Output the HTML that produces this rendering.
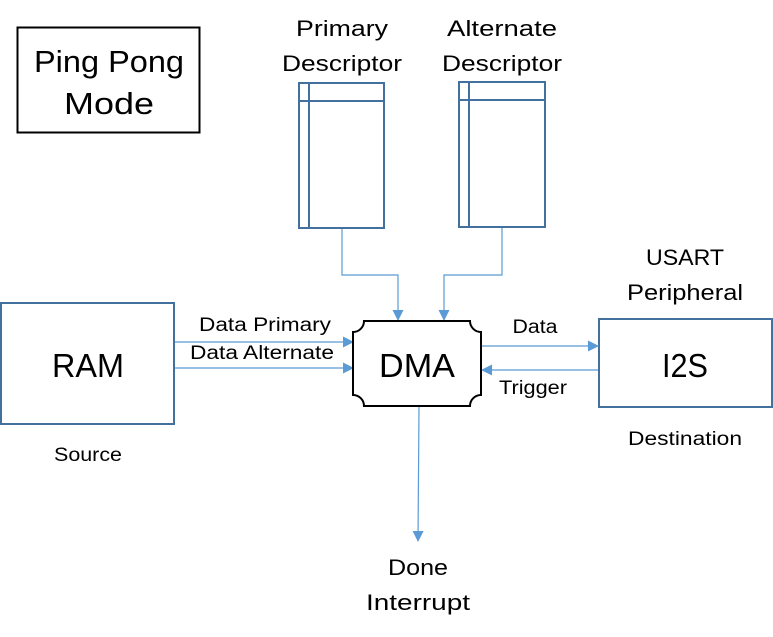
<!DOCTYPE html>
<html><head><meta charset="utf-8"><style>html,body{margin:0;padding:0;background:#fff}svg{display:block}text{font-family:"Liberation Sans",sans-serif;fill:#000}</style></head>
<body>
<svg width="773" height="637" viewBox="0 0 773 637" xmlns="http://www.w3.org/2000/svg">
<defs><marker id="a" markerWidth="11" markerHeight="11" refX="10" refY="5.5" orient="auto" markerUnits="userSpaceOnUse"><path d="M0,0 L11,5.5 L0,11 Z" fill="#5b9bd5"/></marker></defs>
<rect x="17.5" y="27.5" width="182" height="105" fill="none" stroke="#000" stroke-width="2"/>
<text x="109" y="72" font-size="31" text-anchor="middle" textLength="150" lengthAdjust="spacingAndGlyphs">Ping Pong</text>
<text x="109" y="114" font-size="31" text-anchor="middle" textLength="90" lengthAdjust="spacingAndGlyphs">Mode</text>
<text x="342" y="36" font-size="22" text-anchor="middle" textLength="92" lengthAdjust="spacingAndGlyphs">Primary</text>
<text x="342" y="71" font-size="22" text-anchor="middle" textLength="120" lengthAdjust="spacingAndGlyphs">Descriptor</text>
<text x="502" y="36" font-size="22" text-anchor="middle" textLength="110" lengthAdjust="spacingAndGlyphs">Alternate</text>
<text x="502" y="71" font-size="22" text-anchor="middle" textLength="120" lengthAdjust="spacingAndGlyphs">Descriptor</text>
<g fill="none" stroke="#41719c" stroke-width="2">
<rect x="299" y="83" width="85" height="145"/><line x1="309" y1="83" x2="309" y2="228"/><line x1="299" y1="101" x2="384" y2="101"/>
<rect x="459" y="82" width="86" height="145"/><line x1="469" y1="82" x2="469" y2="227"/><line x1="459" y1="100" x2="545" y2="100"/>
<rect x="1" y="303" width="173" height="121"/>
<rect x="599" y="319" width="173" height="88"/>
</g>
<g fill="none" stroke="#5b9bd5" stroke-width="1.2">
<polyline points="342,229 342,275 398,275 398,320" marker-end="url(#a)"/>
<polyline points="502,228 502,275 444,275 444,320" marker-end="url(#a)"/>
<line x1="175" y1="342" x2="353" y2="342" marker-end="url(#a)"/>
<line x1="175" y1="368" x2="353" y2="368" marker-end="url(#a)"/>
<line x1="482" y1="346" x2="598" y2="346" marker-end="url(#a)"/>
<line x1="598" y1="370" x2="482" y2="370" marker-end="url(#a)"/>
<line x1="419" y1="407" x2="418" y2="541" marker-end="url(#a)"/>
</g>
<path d="M364,321 L470,321 A11,11 0 0 0 481,332 L481,395 A11,11 0 0 0 470,406 L364,406 A11,11 0 0 0 353,395 L353,332 A11,11 0 0 0 364,321 Z" fill="#fff" stroke="#000" stroke-width="2"/>
<text x="417" y="377" font-size="33" text-anchor="middle" textLength="76" lengthAdjust="spacingAndGlyphs">DMA</text>
<text x="88" y="377" font-size="33" text-anchor="middle" textLength="72" lengthAdjust="spacingAndGlyphs">RAM</text>
<text x="685" y="377" font-size="33" text-anchor="middle" textLength="46" lengthAdjust="spacingAndGlyphs">I2S</text>
<text x="265" y="331" font-size="19" text-anchor="middle" textLength="132" lengthAdjust="spacingAndGlyphs">Data Primary</text>
<text x="262" y="359" font-size="19" text-anchor="middle" textLength="144" lengthAdjust="spacingAndGlyphs">Data Alternate</text>
<text x="535" y="333" font-size="19" text-anchor="middle" textLength="45" lengthAdjust="spacingAndGlyphs">Data</text>
<text x="533" y="394" font-size="19" text-anchor="middle" textLength="68" lengthAdjust="spacingAndGlyphs">Trigger</text>
<text x="88" y="461" font-size="19" text-anchor="middle" textLength="68" lengthAdjust="spacingAndGlyphs">Source</text>
<text x="685" y="445" font-size="19" text-anchor="middle" textLength="114" lengthAdjust="spacingAndGlyphs">Destination</text>
<text x="685" y="265" font-size="22" text-anchor="middle" textLength="78" lengthAdjust="spacingAndGlyphs">USART</text>
<text x="685" y="300" font-size="22" text-anchor="middle" textLength="116" lengthAdjust="spacingAndGlyphs">Peripheral</text>
<text x="418" y="575" font-size="22" text-anchor="middle" textLength="60" lengthAdjust="spacingAndGlyphs">Done</text>
<text x="418" y="610" font-size="22" text-anchor="middle" textLength="104" lengthAdjust="spacingAndGlyphs">Interrupt</text>
</svg>
</body></html>
